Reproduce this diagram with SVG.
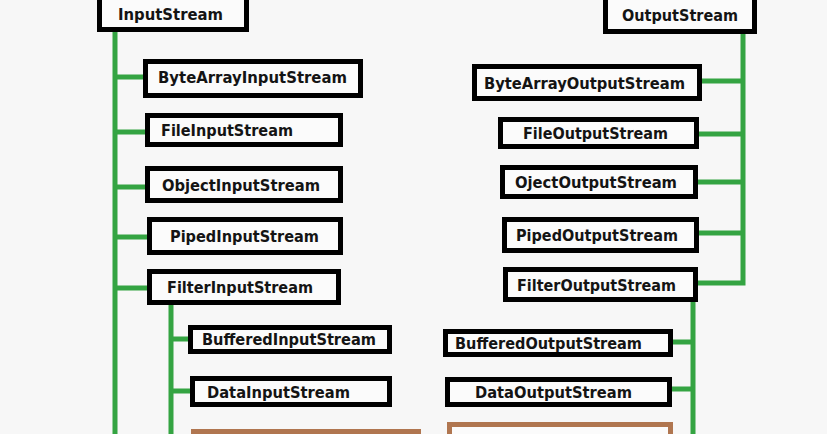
<svg xmlns="http://www.w3.org/2000/svg" width="827" height="434" viewBox="0 0 827 434">
<style>
.box{fill:#fbfbfb;stroke:#000;stroke-width:5}
.brown{fill:#fbfbfb;stroke:#b07650;stroke-width:5}
.lbl{font-family:"DejaVu Sans",Verdana,sans-serif;font-weight:bold;font-size:16px;fill:#141414}
.ln{fill:none;stroke:#34a442;stroke-width:5}
</style>
<rect width="827" height="434" fill="#f7f7f7"/>
<g id="connectors">
<path class="ln" d="M115 32V434M115 77H143M115 132H145M115 187H145M115 237H147M115 288H147"/>
<path class="ln" d="M171 305V434M171 339H188M171 391H190"/>
<path class="ln" d="M743 34V283H698M743 81H702M743 134H699M743 182H698M743 233H699"/>
<path class="ln" d="M693 302V434M693 342H673M693 389H672"/>
</g>
<g id="InputStream"><rect class="box" x="99.5" y="-5.5" width="147" height="35"/><text class="lbl" x="118" y="20" textLength="105" lengthAdjust="spacingAndGlyphs">InputStream</text></g>
<g id="ByteArrayInputStream"><rect class="box" x="145.5" y="61.5" width="215" height="34"/><text class="lbl" x="158" y="83" textLength="189" lengthAdjust="spacingAndGlyphs">ByteArrayInputStream</text></g>
<g id="FileInputStream"><rect class="box" x="147.5" y="115.5" width="193" height="29"/><text class="lbl" x="161" y="136" textLength="132" lengthAdjust="spacingAndGlyphs">FileInputStream</text></g>
<g id="ObjectInputStream"><rect class="box" x="147.5" y="168.5" width="193" height="32"/><text class="lbl" x="162" y="191" textLength="158" lengthAdjust="spacingAndGlyphs">ObjectInputStream</text></g>
<g id="PipedInputStream"><rect class="box" x="149.5" y="219.5" width="191" height="33"/><text class="lbl" x="170" y="242" textLength="149" lengthAdjust="spacingAndGlyphs">PipedInputStream</text></g>
<g id="FilterInputStream"><rect class="box" x="149.5" y="271.5" width="189" height="31"/><text class="lbl" x="167" y="293" textLength="146" lengthAdjust="spacingAndGlyphs">FilterInputStream</text></g>
<g id="BufferedInputStream"><rect class="box" x="190.5" y="327.5" width="199" height="24"/><text class="lbl" x="202" y="345" textLength="174" lengthAdjust="spacingAndGlyphs">BufferedInputStream</text></g>
<g id="DataInputStream"><rect class="box" x="192.5" y="378.5" width="197" height="26"/><text class="lbl" x="207" y="398" textLength="143" lengthAdjust="spacingAndGlyphs">DataInputStream</text></g>
<g id="LeftBottomBox"><rect class="brown" x="193.5" y="431.5" width="225" height="40"/></g>
<g id="OutputStream"><rect class="box" x="605.5" y="-5.5" width="149" height="37"/><text class="lbl" x="622" y="21" textLength="116" lengthAdjust="spacingAndGlyphs">OutputStream</text></g>
<g id="ByteArrayOutputStream"><rect class="box" x="474.5" y="66.5" width="225" height="32"/><text class="lbl" x="484" y="89" textLength="201" lengthAdjust="spacingAndGlyphs">ByteArrayOutputStream</text></g>
<g id="FileOutputStream"><rect class="box" x="500.5" y="119.5" width="196" height="27"/><text class="lbl" x="523" y="139" textLength="145" lengthAdjust="spacingAndGlyphs">FileOutputStream</text></g>
<g id="OjectOutputStream"><rect class="box" x="502.5" y="167.5" width="193" height="29"/><text class="lbl" x="515" y="188" textLength="162" lengthAdjust="spacingAndGlyphs">OjectOutputStream</text></g>
<g id="PipedOutputStream"><rect class="box" x="504.5" y="219.5" width="192" height="31"/><text class="lbl" x="516" y="241" textLength="162" lengthAdjust="spacingAndGlyphs">PipedOutputStream</text></g>
<g id="FilterOutputStream"><rect class="box" x="505.5" y="269.5" width="190" height="30"/><text class="lbl" x="517" y="291" textLength="159" lengthAdjust="spacingAndGlyphs">FilterOutputStream</text></g>
<g id="BufferedOutputStream"><rect class="box" x="445.5" y="331.5" width="225" height="23"/><text class="lbl" x="455" y="349" textLength="187" lengthAdjust="spacingAndGlyphs">BufferedOutputStream</text></g>
<g id="DataOutputStream"><rect class="box" x="447.5" y="379.5" width="222" height="25"/><text class="lbl" x="475" y="398" textLength="157" lengthAdjust="spacingAndGlyphs">DataOutputStream</text></g>
<g id="RightBottomBox"><rect class="brown" x="449.5" y="424.5" width="221" height="40"/></g>
</svg>
